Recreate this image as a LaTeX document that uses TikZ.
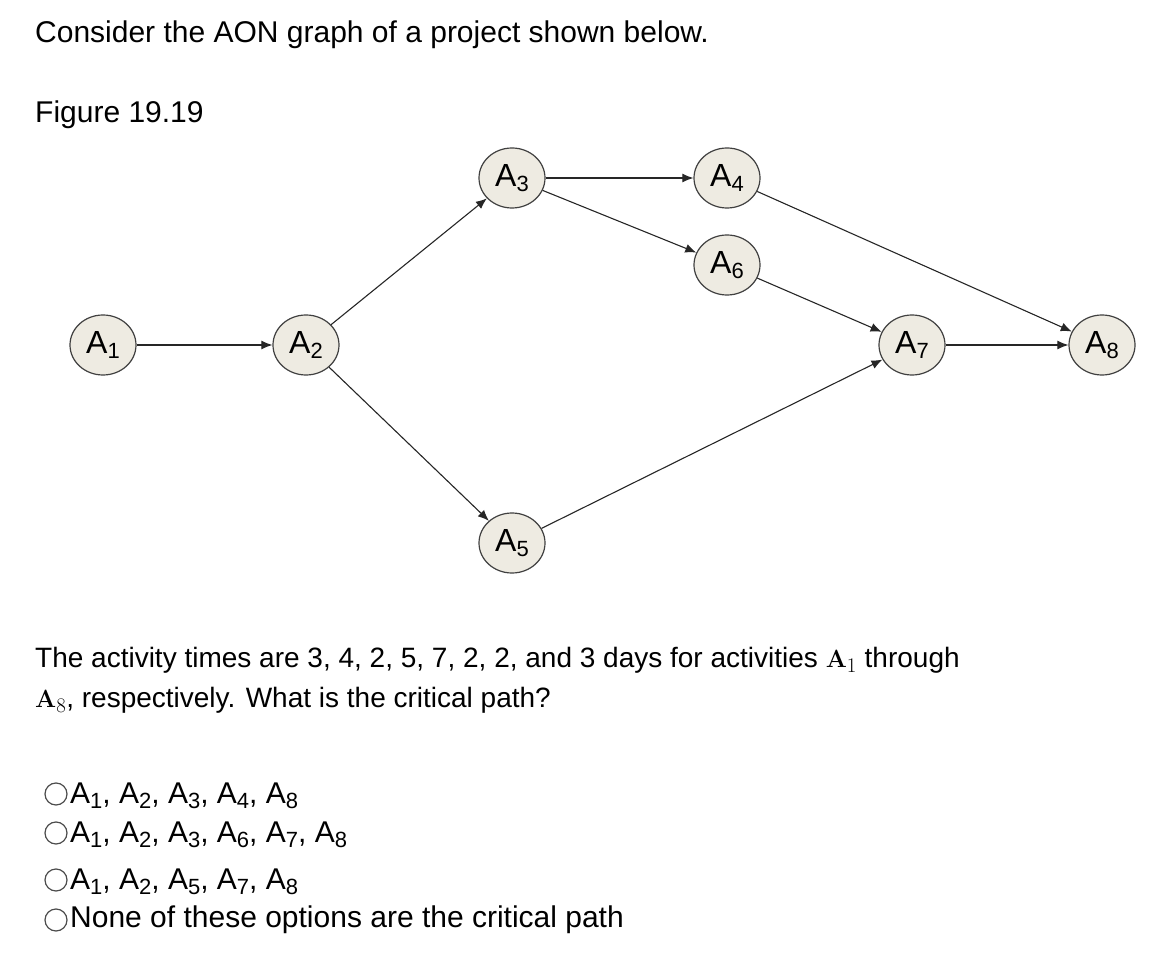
\documentclass[tikz,border=0pt]{standalone}
\usepackage[no-math]{fontspec}
\setmainfont{Liberation Sans}
\usetikzlibrary{arrows.meta,shapes.geometric}
\newcommand{\sbs}[1]{\raisebox{-0.3ex}{\fontsize{22}{24}\selectfont #1}}
\begin{document}
\begin{tikzpicture}[x=1pt,y=-1pt,
  act/.style={ellipse,draw=black!75,line width=1.2pt,fill={rgb,255:red,238;green,235;blue,226},minimum width=66pt,minimum height=60pt,inner sep=0pt,font=\fontsize{32}{34}\selectfont},
  arr/.style={-{Latex[length=11pt,width=9pt]},line width=1.1pt,black!85},
  txt/.style={anchor=west,inner sep=0pt,font=\fontsize{30}{34}\selectfont},
  opt/.style={circle,draw=black!70,line width=1.2pt,minimum size=22pt,inner sep=0pt}]
\useasboundingbox (0,0) rectangle (1152,976);
\node[txt] (t1) at (35,35) {Consider the AON graph of a project shown below.};
\node[txt] (t2) at (35,115) {Figure 19.19};
\node[act] (a1) at (103,345) {A\sbs{1}};
\node[act] (a2) at (306,345) {A\sbs{2}};
\node[act] (a3) at (512,178) {A\sbs{3}};
\node[act] (a4) at (727,178) {A\sbs{4}};
\node[act] (a6) at (727,265) {A\sbs{6}};
\node[act] (a5) at (512,543) {A\sbs{5}};
\node[act] (a7) at (912,345) {A\sbs{7}};
\node[act] (a8) at (1102,345) {A\sbs{8}};
\draw[arr] (a1) -- (a2);
\draw[arr] (a2) -- (a3);
\draw[arr] (a2) -- (a5);
\draw[arr] (a3) -- (a4);
\draw[arr] (a3) -- (a6);
\draw[arr] (a4) -- (a8);
\draw[arr] (a6) -- (a7);
\draw[arr] (a5) -- (a7);
\draw[arr] (a7) -- (a8);
\node[txt,font=\fontsize{28}{34}\selectfont] (q1) at (35,660) {The activity times are 3, 4, 2, 5, 7, 2, 2, and 3 days for activities $\mathbf{A}_1$ through};
\node[txt,font=\fontsize{28}{34}\selectfont] (q2) at (35,700) {$\mathbf{A}_8$, respectively. What is the critical path?};
\node[opt] (o1) at (56,794) {};
\node[opt] (o2) at (56,833) {};
\node[opt] (o3) at (56,880) {};
\node[opt] (o4) at (56,920) {};
\node[txt,anchor=west] (l1) at (70,796) {A\sbs{1}, A\sbs{2}, A\sbs{3}, A\sbs{4}, A\sbs{8}};
\node[txt,anchor=west] (l2) at (70,835) {A\sbs{1}, A\sbs{2}, A\sbs{3}, A\sbs{6}, A\sbs{7}, A\sbs{8}};
\node[txt,anchor=west] (l3) at (70,882) {A\sbs{1}, A\sbs{2}, A\sbs{5}, A\sbs{7}, A\sbs{8}};
\node[txt,anchor=west] (l4) at (70,920) {None of these options are the critical path};
\end{tikzpicture}
\end{document}
